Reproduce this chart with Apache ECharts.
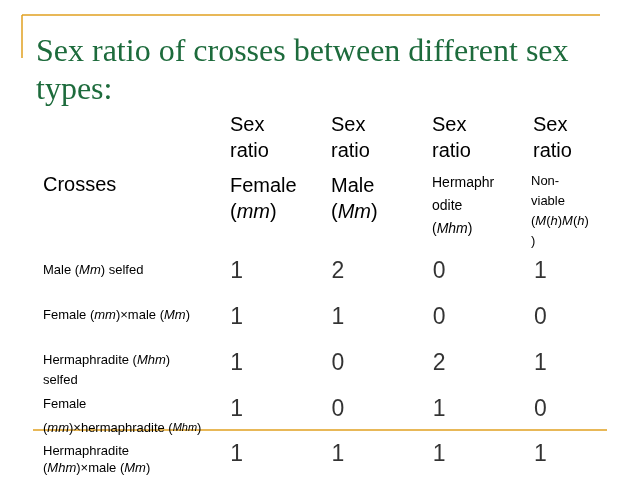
<!DOCTYPE html>
<html><head><meta charset="utf-8">
<script src="https://cdn.jsdelivr.net/npm/echarts@6/dist/echarts.min.js"></script>
<style>html,body{margin:0;background:#fff}#c{width:638px;height:478px}</style>
</head><body><div id="c"></div>
<script>
const columns = ['Female (mm)', 'Male (Mm)', 'Hermaphrodite (Mhm)', 'Non-viable (M(h)M(h))'];
const crosses = ['Male (Mm) selfed', 'Female (mm)×male (Mm)', 'Hermaphradite (Mhm) selfed',
  'Female (mm)×hermaphradite (Mhm)', 'Hermaphradite (Mhm)×male (Mm)'];
const ratios = [
  [1, 2, 0, 1],
  [1, 1, 0, 0],
  [1, 0, 2, 1],
  [1, 0, 1, 0],
  [1, 1, 1, 1]
];

const chart = echarts.init(document.getElementById('c'));
const cells = [];
ratios.forEach((row, r) => row.forEach((v, c) => cells.push([c, r, v])));

const base = { fontFamily: 'Liberation Sans, Arial', fill: '#000' };
const rich = {
  i: { fontStyle: 'italic', fontFamily: 'Liberation Sans', fontSize: 13 },
  is: { fontStyle: 'italic', fontFamily: 'Liberation Sans', fontSize: 11 },
  I: { fontStyle: 'italic', fontFamily: 'Liberation Sans', fontSize: 20 },
  ih: { fontStyle: 'italic', fontFamily: 'Liberation Sans', fontSize: 14 },
  in: { fontStyle: 'italic', fontFamily: 'Liberation Sans', fontSize: 13 }
};
function txt(x, y, text, size, lh) {
  return { type: 'text', left: x, top: y, style: { ...base, text, fontSize: size, lineHeight: lh || size * 1.25, rich } };
}

chart.setOption({
  animation: false,
  grid: { left: 186, top: 249, width: 405, height: 234 },
  xAxis: { type: 'category', data: columns, show: false },
  yAxis: { type: 'category', data: crosses, inverse: true, show: false },
  series: [{
    type: 'scatter',
    symbolSize: 0,
    data: cells,
    label: { show: true, position: 'inside', formatter: p => p.value[2], fontSize: 23, color: '#000', textBorderWidth: 0, fontFamily: 'Liberation Sans, Arial' }
  }],
  graphic: [
    { type: 'line', shape: { x1: 22, y1: 15, x2: 600, y2: 15 }, style: { stroke: '#e0a020', lineWidth: 1.5 } },
    { type: 'line', shape: { x1: 22, y1: 15, x2: 22, y2: 58 }, style: { stroke: '#e0a020', lineWidth: 1.5 } },
    { type: 'line', shape: { x1: 33, y1: 430, x2: 607, y2: 430 }, style: { stroke: '#e0a020', lineWidth: 1.5 } },
    { type: 'text', left: 36, top: 34, style: { text: 'Sex ratio of crosses between different sex\ntypes:', fontFamily: 'Liberation Serif, serif', fontSize: 32, lineHeight: 38, fill: '#1d6b3c' } },
    txt(230, 112, 'Sex\nratio', 20, 26),
    txt(331, 112, 'Sex\nratio', 20, 26),
    txt(432, 112, 'Sex\nratio', 20, 26),
    txt(533, 112, 'Sex\nratio', 20, 26),
    txt(43, 173, 'Crosses', 20),
    txt(230, 173, 'Female\n({I|mm})', 20, 26),
    txt(331, 173, 'Male\n({I|Mm})', 20, 26),
    txt(432, 172, 'Hermaphr\nodite\n({ih|Mhm})', 14, 23),
    txt(531, 171, 'Non-\nviable\n({in|M}({in|h}){in|M}({in|h})\n)', 13, 20),
    txt(43, 262, 'Male ({i|Mm}) selfed', 13),
    txt(43, 307, 'Female ({i|mm})×male ({i|Mm})', 13),
    txt(43, 350, 'Hermaphradite ({i|Mhm})\nselfed', 13, 20),
    txt(43, 392, 'Female\n({i|mm})×hermaphradite ({is|Mhm})', 13, 24),
    txt(43, 443, 'Hermaphradite\n({i|Mhm})×male ({i|Mm})', 13, 17)
  ]
});
</script></body></html>
